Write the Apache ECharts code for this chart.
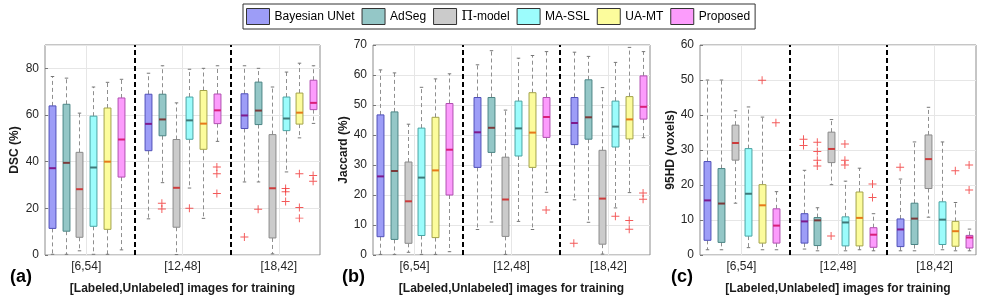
<!DOCTYPE html>
<html><head><meta charset="utf-8">
<script src="https://cdn.jsdelivr.net/npm/echarts@6/dist/echarts.min.js"></script>
<style>html,body{margin:0;padding:0;background:#fff}#c{width:992px;height:300px}</style>
</head><body><div id="c"></div>
<script>
// ---------- data ----------
const groups = ['[6,54]', '[12,48]', '[18,42]'];
const methods = ['Bayesian UNet', 'AdSeg', 'Π-model', 'MA-SSL', 'UA-MT', 'Proposed'];
// each entry: [lower whisker, Q1, median, Q3, upper whisker] for groups [6,54], [12,48], [18,42]
const dscBayesian = [[0.3, 11.4, 37.2, 63.9, 76.5], [15.5, 44.7, 56.2, 68.9, 77.9], [31.3, 54.2, 59.8, 69.1, 81.1]];
const dscAdSeg    = [[0.3, 10.2, 39.5, 64.6, 75.8], [31.0, 51.1, 58.1, 68.9, 81.1], [31.3, 55.9, 61.9, 74.1, 80.0]];
const dscPi       = [[1.8, 7.6, 28.2, 44.0, 60.8], [0.2, 11.9, 28.8, 49.5, 65.2], [0.5, 7.3, 28.6, 51.6, 72.0]];
const dscMASSL    = [[0.3, 12.3, 37.5, 59.5, 72.0], [28.7, 49.6, 57.7, 67.7, 79.6], [35.6, 53.3, 58.5, 67.7, 78.4]];
const dscUAMT     = [[0.3, 11.0, 40.0, 63.0, 74.0], [15.7, 45.3, 56.3, 70.5, 80.0], [50.2, 56.1, 61.0, 69.4, 82.2]];
const dscProposed = [[2.2, 33.4, 49.5, 67.3, 75.3], [48.7, 56.3, 62.0, 69.0, 81.1], [56.4, 62.3, 65.2, 74.9, 81.1]];
// outliers: [method index, group index, value]
const dscOutliers = [[1, 1, 22.2], [1, 1, 19.7], [3, 1, 20.0], [5, 1, 37.7], [5, 1, 34.8], [5, 1, 26.4],
  [0, 2, 7.7], [1, 2, 19.6], [3, 2, 28.5], [3, 2, 27.1], [3, 2, 22.9], [4, 2, 34.8], [4, 2, 20.4], [4, 2, 15.8],
  [5, 2, 34.1], [5, 2, 31.6]];

const jacBayesian = [[0.2, 6.1, 26.2, 46.7, 61.7], [8.5, 29.2, 40.9, 52.5, 63.4], [18.4, 36.8, 44.0, 52.5, 67.6]];
const jacAdSeg    = [[0.2, 5.2, 28.0, 47.7, 60.7], [11.0, 34.2, 42.4, 52.5, 68.1], [10.9, 38.6, 45.9, 58.4, 66.2]];
const jacPi       = [[0.9, 3.9, 17.9, 31.0, 43.6], [0.2, 6.2, 18.5, 32.6, 48.3], [0.3, 3.6, 18.8, 34.9, 55.8]];
const jacMASSL    = [[0.2, 6.5, 25.8, 42.3, 55.9], [11.2, 33.0, 42.2, 51.3, 65.6], [15.7, 36.0, 42.8, 51.3, 64.2]];
const jacUAMT     = [[0.2, 5.8, 28.2, 45.9, 58.7], [8.5, 29.2, 40.8, 54.1, 66.5], [20.8, 38.7, 45.2, 52.8, 69.2]];
const jacProposed = [[1.1, 20.0, 35.1, 50.5, 60.4], [20.9, 39.2, 46.0, 52.5, 67.8], [39.1, 45.3, 49.4, 59.7, 67.8]];
const jacOutliers = [[5, 1, 15.0], [0, 2, 3.9], [3, 2, 12.9], [4, 2, 11.5], [4, 2, 8.6], [5, 2, 20.7], [5, 2, 18.6]];

const hdBayesian = [[1.5, 4.2, 15.6, 26.7, 50.0], [1.7, 3.4, 9.6, 11.8, 24.2], [1.2, 2.4, 7.3, 10.3, 21.7]];
const hdAdSeg    = [[1.5, 3.6, 14.7, 24.7, 50.0], [1.2, 2.7, 9.9, 10.7, 13.5], [1.2, 3.0, 10.4, 14.8, 32.3]];
const hdPi       = [[14.8, 27.1, 32.0, 37.1, 41.2], [20.1, 26.4, 30.3, 35.1, 38.7], [10.8, 19.0, 27.4, 34.3, 42.2]];
const hdMASSL    = [[2.1, 5.4, 17.5, 30.4, 42.3], [1.2, 2.6, 9.3, 10.9, 21.1], [1.5, 3.0, 10.1, 15.2, 32.3]];
const hdUAMT     = [[1.5, 3.4, 14.2, 20.1, 39.4], [1.5, 2.6, 10.6, 18.0, 24.8], [1.2, 2.5, 6.8, 9.6, 15.0]];
const hdProposed = [[1.5, 3.4, 8.4, 13.2, 18.1], [1.2, 2.2, 5.8, 7.8, 11.8], [1.2, 2.0, 5.0, 5.6, 7.4]];
const hdOutliers = [[4, 0, 49.9], [5, 0, 37.8], [0, 1, 33.1], [0, 1, 31.3], [1, 1, 32.2], [1, 1, 29.6], [1, 1, 27.1],
  [1, 1, 25.4], [2, 1, 5.4], [3, 1, 31.7], [3, 1, 27.1], [3, 1, 25.7], [5, 1, 20.3], [5, 1, 16.4],
  [0, 2, 25.1], [4, 2, 24.1], [5, 2, 25.7], [5, 2, 18.6]];

const yMax = [90, 70, 60];
const yTickStep = [20, 10, 10];
const yNames = ['DSC (%)', 'Jaccard (%)', '95HD (voxels)'];
const panelTags = ['(a)', '(b)', '(c)'];

// ---------- styles ----------
const fills   = ['#9d9df7', '#94c7c7', '#cbcbcb', '#9cfcfc', '#fcfc9c', '#fc9cfc'];
const edges   = ['#4f4fb8', '#4b8585', '#8a8a8a', '#4aa3a3', '#a3a34a', '#b04fb0'];
const medians = ['#7d1a8e', '#7a3a3a', '#cc3c3c', '#3f7878', '#e67a1a', '#d81f7a'];
const FONT = "'Liberation Sans', Arial, Helvetica, sans-serif";
const panelStats = [
  [dscBayesian, dscAdSeg, dscPi, dscMASSL, dscUAMT, dscProposed],
  [jacBayesian, jacAdSeg, jacPi, jacMASSL, jacUAMT, jacProposed],
  [hdBayesian, hdAdSeg, hdPi, hdMASSL, hdUAMT, hdProposed]
];
const panelOutliers = [dscOutliers, jacOutliers, hdOutliers];
const grids = [
  {left: 45, top: 45, width: 275, height: 213},
  {left: 373, top: 45, width: 277, height: 213},
  {left: 700, top: 45, width: 276, height: 213}
];
const pos = (g, m) => g * 7 + m + 1;
const plusPath = 'path://M4.4,0h1.2v4.4h4.4v1.2h-4.4v4.4h-1.2v-4.4h-4.4v-1.2h4.4z';

function makeRender(mi) {
  return function (params, api) {
    const x = api.value(0);
    const lo = api.coord([x, api.value(1)]);
    const q1 = api.coord([x, api.value(2)]);
    const md = api.coord([x, api.value(3)]);
    const q3 = api.coord([x, api.value(4)]);
    const hi = api.coord([x, api.value(5)]);
    const half = api.size([0.5, 0])[0] / 2;
    const cap = api.size([0.25, 0])[0] / 2;
    const cx = Math.round(q1[0]) + 0.5;
    const wh = {stroke: '#8f8f8f', lineWidth: 1, lineDash: [4, 3]};
    const cs = {stroke: '#777', lineWidth: 1};
    return {type: 'group', children: [
      {type: 'line', shape: {x1: cx, y1: q3[1], x2: cx, y2: hi[1]}, style: wh},
      {type: 'line', shape: {x1: cx, y1: q1[1], x2: cx, y2: lo[1]}, style: wh},
      {type: 'line', shape: {x1: cx - cap, y1: hi[1], x2: cx + cap, y2: hi[1]}, style: cs},
      {type: 'line', shape: {x1: cx - cap, y1: lo[1], x2: cx + cap, y2: lo[1]}, style: cs},
      {type: 'rect', shape: {x: cx - half, y: q3[1], width: half * 2, height: q1[1] - q3[1]},
        style: {fill: fills[mi], stroke: edges[mi], lineWidth: 1}},
      {type: 'line', shape: {x1: cx - half, y1: md[1], x2: cx + half, y2: md[1]},
        style: {stroke: medians[mi], lineWidth: 2}}
    ]};
  };
}

const xAxes = [], yAxes = [], series = [], graphics = [];
for (let p = 0; p < 3; p++) {
  xAxes.push({
    type: 'value', gridIndex: p, min: 0.5, max: 20.5,
    axisLine: {show: false},
    splitLine: {show: false},
    axisTick: {show: true, inside: true, length: 3, customValues: [3.5, 10.5, 17.5], lineStyle: {color: '#777'}},
    axisLabel: {customValues: [3.5, 10.5, 17.5], formatter: v => groups[Math.round((v - 3.5) / 7)],
      color: '#262626', fontSize: 12, fontFamily: FONT, margin: 6},
    name: '[Labeled,Unlabeled] images for training', nameLocation: 'middle', nameGap: 28,
    nameTextStyle: {fontFamily: FONT, fontSize: 12, fontWeight: 'bold', color: '#1a1a1a'}
  });
  yAxes.push({
    type: 'value', gridIndex: p, min: 0, max: yMax[p], interval: yTickStep[p],
    axisLine: {show: false},
    axisTick: {show: true, inside: true, length: 3, lineStyle: {color: '#777'}},
    axisLabel: {color: '#262626', fontSize: 12, fontFamily: FONT, margin: 6, showMaxLabel: p !== 0},
    splitLine: {show: true, lineStyle: {color: '#e6e6e6', width: 1}},
    name: yNames[p], nameLocation: 'middle', nameGap: [24, 22, 19][p],
    nameTextStyle: {fontFamily: FONT, fontSize: 12, fontWeight: 'bold', color: '#1a1a1a'}
  });
  for (let m = 0; m < 6; m++) {
    series.push({
      type: 'custom', name: methods[m], xAxisIndex: p, yAxisIndex: p,
      itemStyle: {color: fills[m], borderColor: edges[m]},
      renderItem: makeRender(m),
      encode: {x: 0, y: [1, 2, 3, 4, 5]},
      data: panelStats[p][m].map((s, g) => [pos(g, m)].concat(s)),
      z: 3
    });
  }
  series.push({
    type: 'scatter', name: 'outliers' + p, xAxisIndex: p, yAxisIndex: p,
    symbol: plusPath, symbolSize: 8, itemStyle: {color: '#f03030'}, z: 4, silent: true,
    data: panelOutliers[p].map(o => [pos(o[1], o[0]), o[2]]),
    markLine: {
      silent: true, symbol: ['none', 'none'], label: {show: false}, animation: false,
      data: [
        {xAxis: 3.5, lineStyle: {color: '#e6e6e6', type: 'solid', width: 1}},
        {xAxis: 10.5, lineStyle: {color: '#e6e6e6', type: 'solid', width: 1}},
        {xAxis: 17.5, lineStyle: {color: '#e6e6e6', type: 'solid', width: 1}},
        {xAxis: 7, lineStyle: {color: '#000', type: [5, 3], width: 2}},
        {xAxis: 14, lineStyle: {color: '#000', type: [5, 3], width: 2}}
      ]
    }
  });
  graphics.push({type: 'text', left: [10, 342, 671][p], top: 268,
    style: {text: panelTags[p], font: 'bold 18px ' + FONT, fill: '#000'}});
}

const chart = echarts.init(document.getElementById('c'), null, {renderer: 'canvas'});
chart.setOption({
  animation: false,
  backgroundColor: '#fff',
  grid: grids.map(g => Object.assign({show: true, borderColor: '#8c8c8c', borderWidth: 1, backgroundColor: 'transparent'}, g)),
  xAxis: xAxes,
  yAxis: yAxes,
  legend: {
    data: methods.map((n, i) => ({name: n, itemStyle: {color: fills[i], borderColor: '#333', borderWidth: 1}})),
    icon: 'rect', left: 243, top: 4, itemWidth: 23, itemHeight: 16, itemGap: 7,
    padding: [4, 5, 4, 3], borderColor: '#333', borderWidth: 1,
    selectedMode: false,
    textStyle: {fontFamily: FONT, fontSize: 12, color: '#000',
      rich: {pi: {fontFamily: "'DejaVu Serif', 'Liberation Serif', serif", fontSize: 13, color: '#000'}}},
    formatter: n => n === 'Π-model' ? '{pi|Π}-model' : n
  },
  graphic: graphics,
  series: series
});
</script></body></html>
